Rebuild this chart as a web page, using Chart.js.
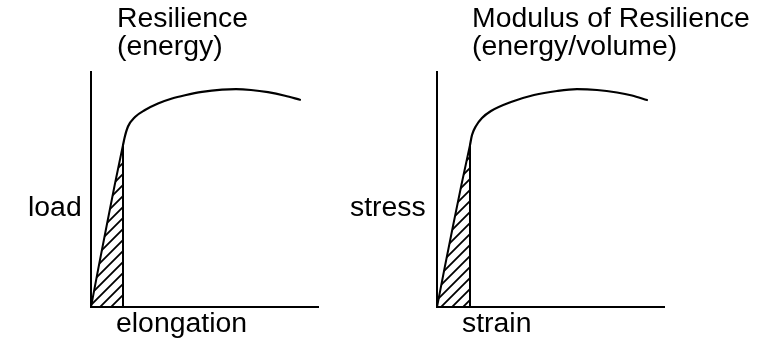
<!DOCTYPE html>
<html>
<head>
<meta charset="utf-8">
<script src="https://cdn.jsdelivr.net/npm/chart.js@4/dist/chart.umd.min.js"></script>
<style>
  html, body { margin: 0; padding: 0; background: #ffffff; }
  #wrap { position: relative; width: 768px; height: 348px; background: #ffffff; overflow: hidden; }
  #wrap canvas { position: absolute; left: 0; top: 0; }
</style>
</head>
<body>
<div id="wrap">
  <canvas id="c1" width="768" height="348"></canvas>
  <canvas id="c2" width="768" height="348"></canvas>
</div>
<script>
// ---- Data (arbitrary units: x = extension, y = load/stress) ----
const leftElasticX  = [0, 7.6, 15.6, 23.7, 32];
const leftElasticY  = [0, 40, 81, 122, 162];
const leftPlasticX  = [32, 34, 37, 44, 54, 67, 81, 94, 111, 131, 145, 160, 177, 194, 209];
const leftPlasticY  = [162, 171, 180.5, 190, 197, 203.5, 208.5, 211.8, 215.2, 217.4, 217.8, 217, 214.8, 211.3, 207.3];

const rightElasticX = [0, 7.8, 16, 24.4, 33];
const rightElasticY = [0, 40, 81, 122, 162];
const rightPlasticX = [33, 35, 39, 45, 54, 74, 97, 120, 140, 160, 180, 195, 210];
const rightPlasticY = [162, 172, 181, 189, 196, 205, 212, 216, 217.8, 217, 214.5, 211.5, 207];

const axisMaxX = 227;
const axisMaxY = 235;

const leftTitle   = ["Resilience", "(energy)"];
const leftYLabel  = "load";
const leftXLabel  = "elongation";
const rightTitle  = ["Modulus of Resilience", "(energy/volume)"];
const rightYLabel = "stress";
const rightXLabel = "strain";

// ---- helpers ----
function pts(xs, ys) { return xs.map((x, i) => ({ x: x, y: ys[i] })); }

function hatchPattern() {
  const s = 11;
  const c = document.createElement('canvas');
  c.width = s; c.height = s;
  const g = c.getContext('2d');
  g.strokeStyle = '#000';
  g.lineWidth = 1.8;
  g.beginPath();
  g.moveTo(-3, s + 3); g.lineTo(s + 3, -3);
  g.moveTo(-3, 3); g.lineTo(3, -3);
  g.moveTo(s - 3, s + 3); g.lineTo(s + 3, s - 3);
  g.stroke();
  return g.createPattern(c, 'repeat');
}

const FONT = '28.4px "Liberation Sans", Arial, sans-serif';

function textPlugin(items) {
  return {
    id: 'labels',
    afterDraw(chart) {
      const ctx = chart.ctx;
      ctx.save();
      ctx.font = FONT;
      ctx.fillStyle = '#000';
      ctx.textBaseline = 'alphabetic';
      ctx.textAlign = 'left';
      items.forEach(it => ctx.fillText(it.t, it.x, it.y));
      ctx.restore();
    }
  };
}

function makeChart(id, elasticX, elasticY, plasticX, plasticY, pad, texts) {
  const yieldX = elasticX[elasticX.length - 1];
  const hatchPts = pts(elasticX, elasticY).concat([{ x: yieldX, y: 0 }]);
  return new Chart(document.getElementById(id), {
    type: 'scatter',
    data: {
      datasets: [
        {
          data: hatchPts,
          showLine: true,
          borderColor: '#000',
          borderWidth: 2,
          borderJoinStyle: 'round',
          pointRadius: 0,
          tension: 0,
          fill: 'origin',
          backgroundColor: hatchPattern()
        },
        {
          data: pts(plasticX, plasticY),
          showLine: true,
          borderColor: '#000',
          borderWidth: 2.2,
          borderCapStyle: 'round',
          pointRadius: 0,
          cubicInterpolationMode: 'monotone',
          fill: false
        }
      ]
    },
    options: {
      responsive: false,
      animation: false,
      devicePixelRatio: 1,
      layout: { padding: pad },
      plugins: { legend: { display: false }, tooltip: { enabled: false }, title: { display: false } },
      scales: {
        x: {
          type: 'linear', min: 0, max: axisMaxX,
          grid: { display: false },
          ticks: { display: false },
          border: { display: true, color: '#000', width: 2 },
          afterFit: s => { s.height = 0; }
        },
        y: {
          type: 'linear', min: 0, max: axisMaxY,
          grid: { display: false },
          ticks: { display: false },
          border: { display: true, color: '#000', width: 2 },
          afterFit: s => { s.width = 0; }
        }
      }
    },
    plugins: [textPlugin(texts)]
  });
}

makeChart('c1', leftElasticX, leftElasticY, leftPlasticX, leftPlasticY,
  { left: 91, right: 768 - 318, top: 72, bottom: 348 - 307 },
  [
    { t: leftTitle[0], x: 117, y: 27 },
    { t: leftTitle[1], x: 117, y: 55 },
    { t: leftYLabel, x: 28, y: 216 },
    { t: leftXLabel, x: 116, y: 332 }
  ]);

makeChart('c2', rightElasticX, rightElasticY, rightPlasticX, rightPlasticY,
  { left: 437, right: 768 - 664, top: 72, bottom: 348 - 307 },
  [
    { t: rightTitle[0], x: 472, y: 27 },
    { t: rightTitle[1], x: 472, y: 55 },
    { t: rightYLabel, x: 350, y: 216 },
    { t: rightXLabel, x: 462, y: 332 }
  ]);
</script>
</body>
</html>
